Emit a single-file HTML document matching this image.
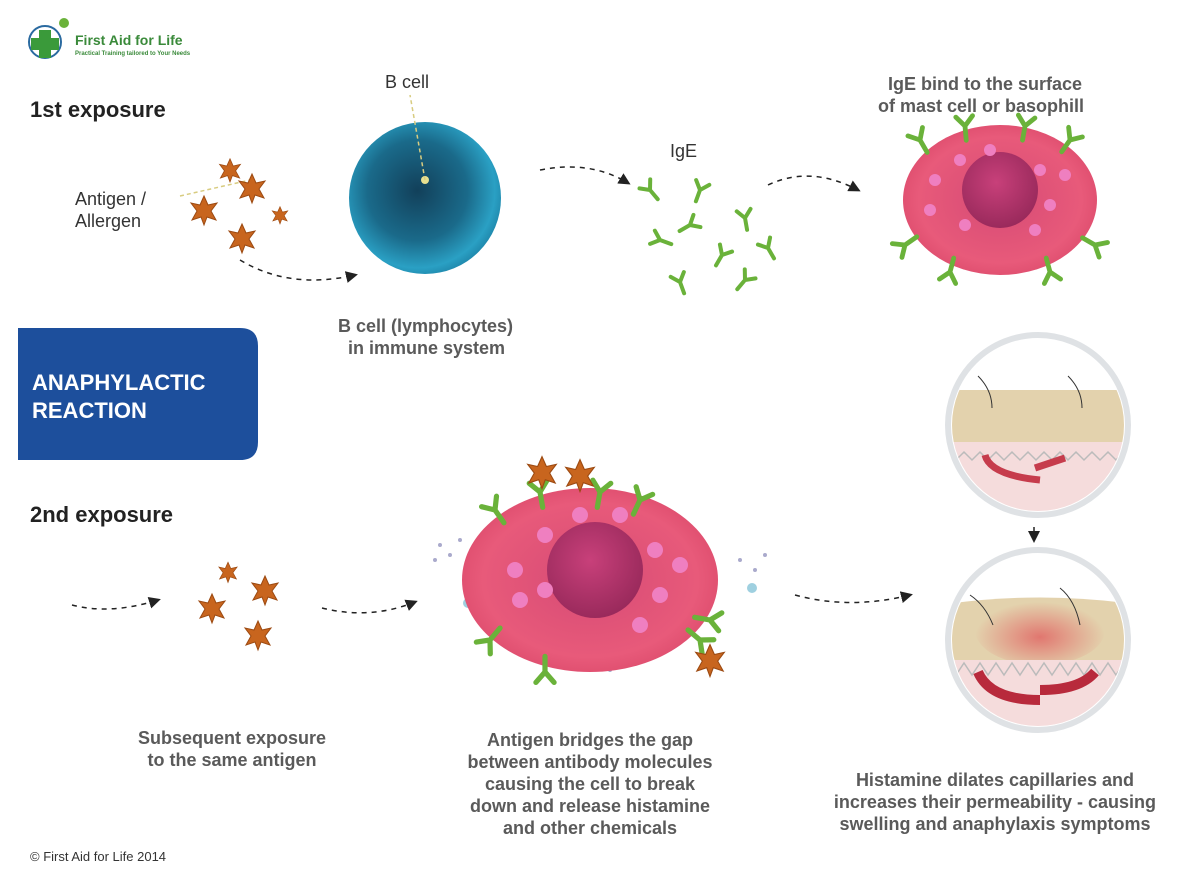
<!DOCTYPE html>
<html><head><meta charset="utf-8"><style>
body{margin:0;background:#fff}
svg{display:block}
text{font-family:"Liberation Sans",Arial,sans-serif}
.b{font-weight:bold;fill:#5a5a5a;font-size:18px}
</style></head><body>
<svg width="1200" height="871" viewBox="0 0 1200 871" xmlns="http://www.w3.org/2000/svg">
<defs>
<radialGradient id="bc" cx="0.45" cy="0.45" r="0.6">
<stop offset="0" stop-color="#12405a"/><stop offset="0.55" stop-color="#1a6a8a"/><stop offset="0.85" stop-color="#2aa0c4"/><stop offset="1" stop-color="#1b7fa3"/></radialGradient>
<radialGradient id="mc" cx="0.5" cy="0.5" r="0.6">
<stop offset="0" stop-color="#d64a75"/><stop offset="0.7" stop-color="#e85a7a"/><stop offset="1" stop-color="#d84566"/></radialGradient>
<radialGradient id="nuc" cx="0.45" cy="0.4" r="0.6">
<stop offset="0" stop-color="#c8407a"/><stop offset="1" stop-color="#9a2a5c"/></radialGradient>
<radialGradient id="sw" cx="0.5" cy="0.6" r="0.5">
<stop offset="0" stop-color="#e06060" stop-opacity="0.8"/><stop offset="1" stop-color="#e06060" stop-opacity="0"/></radialGradient>
<g id="y"><path d="M0 12 V0 M0 0 L-7 -8 M0 0 L7 -8" stroke="#6ab23a" stroke-width="4" fill="none" stroke-linecap="round"/></g>
<polygon id="s" points="0,-14 4,-5 13,-7 7,1 12,10 3,7 0,15 -3,7 -12,10 -7,1 -13,-7 -4,-5" fill="#c8651e" stroke="#9c4a12" stroke-width="1"/>
<clipPath id="c1"><circle cx="1038" cy="425" r="86"/></clipPath>
<clipPath id="c2"><circle cx="1038" cy="640" r="86"/></clipPath>
<marker id="ah" markerWidth="8" markerHeight="8" refX="6" refY="4" orient="auto"><path d="M0 0 L8 4 L0 8z" fill="#222"/></marker>
</defs>

<!-- logo -->
<circle cx="45" cy="42" r="16" fill="none" stroke="#2a6aa0" stroke-width="2"/>
<path d="M39 30h12v8h8v12h-8v8h-12v-8h-8v-12h8z" fill="#3a9a3a"/>
<circle cx="64" cy="23" r="5" fill="#6ab23a"/>
<text x="75" y="45" font-size="14" font-weight="bold" fill="#3a8a3a">First Aid for Life</text>
<text x="75" y="55" font-size="6" font-weight="bold" fill="#3a8a3a">Practical Training tailored to Your Needs</text>

<text x="30" y="117" font-size="22" font-weight="bold" fill="#222">1st exposure</text>
<text x="75" y="205" font-size="18" fill="#333">Antigen /</text>
<text x="75" y="227" font-size="18" fill="#333">Allergen</text>
<path d="M180 196 L250 180" stroke="#d8cc80" stroke-width="1.5" stroke-dasharray="4 3"/>
<use href="#s" transform="translate(230,170) scale(0.8)"/>
<use href="#s" transform="translate(252,188)"/>
<use href="#s" transform="translate(204,210)"/>
<use href="#s" transform="translate(280,215) scale(0.6)"/>
<use href="#s" transform="translate(242,238)"/>
<path d="M240 260 Q290 290 355 275" fill="none" stroke="#222" stroke-width="1.5" stroke-dasharray="5 5" marker-end="url(#ah)"/>

<circle cx="425" cy="198" r="76" fill="url(#bc)"/>
<circle cx="425" cy="180" r="4" fill="#e8e090"/>
<path d="M425 180 L410 95" stroke="#d8cc80" stroke-width="1.5" stroke-dasharray="4 3"/>
<text x="385" y="88" font-size="18" fill="#333">B cell</text>
<text x="338" y="332" class="b">B cell (lymphocytes)</text>
<text x="348" y="354" class="b">in immune system</text>
<path d="M540 170 Q590 160 628 183" fill="none" stroke="#222" stroke-width="1.5" stroke-dasharray="5 5" marker-end="url(#ah)"/>

<text x="670" y="157" font-size="18" fill="#333">IgE</text>
<use href="#y" transform="translate(650,190) rotate(-40)"/>
<use href="#y" transform="translate(700,190) rotate(20)"/>
<use href="#y" transform="translate(745,218) rotate(-10)"/>
<use href="#y" transform="translate(690,225) rotate(60)"/>
<use href="#y" transform="translate(660,240) rotate(-70)"/>
<use href="#y" transform="translate(722,255) rotate(30)"/>
<use href="#y" transform="translate(768,248) rotate(-30)"/>
<use href="#y" transform="translate(680,282) rotate(-20)"/>
<use href="#y" transform="translate(745,280) rotate(40)"/>
<path d="M768 185 Q810 165 858 190" fill="none" stroke="#222" stroke-width="1.5" stroke-dasharray="5 5" marker-end="url(#ah)"/>

<text x="888" y="90" font-size="18" font-weight="bold" fill="#5a5a5a">IgE bind to the surface</text>
<text x="878" y="112" font-size="18" font-weight="bold" fill="#5a5a5a">of mast cell or basophill</text>
<ellipse cx="1000" cy="200" rx="97" ry="75" fill="url(#mc)"/>
<circle cx="1000" cy="190" r="38" fill="url(#nuc)"/>
<g fill="#ef7fc0"><circle cx="935" cy="180" r="6"/><circle cx="930" cy="210" r="6"/><circle cx="960" cy="160" r="6"/><circle cx="965" cy="225" r="6"/><circle cx="1040" cy="170" r="6"/><circle cx="1050" cy="205" r="6"/><circle cx="1065" cy="175" r="6"/><circle cx="1035" cy="230" r="6"/><circle cx="990" cy="150" r="6"/></g>
<use href="#y" transform="translate(920,140) rotate(-30) scale(1.2)"/>
<use href="#y" transform="translate(965,126) rotate(-5) scale(1.2)"/>
<use href="#y" transform="translate(1025,126) rotate(10) scale(1.2)"/>
<use href="#y" transform="translate(1070,140) rotate(35) scale(1.2)"/>
<use href="#y" transform="translate(1095,245) rotate(120) scale(1.2)"/>
<use href="#y" transform="translate(1050,272) rotate(165) scale(1.2)"/>
<use href="#y" transform="translate(950,272) rotate(195) scale(1.2)"/>
<use href="#y" transform="translate(905,245) rotate(235) scale(1.2)"/>

<path d="M18 328 H240 Q258 328 258 346 V442 Q258 460 240 460 H18z" fill="#1d4f9c"/>
<text x="32" y="390" font-size="22" font-weight="bold" fill="#fff">ANAPHYLACTIC</text>
<text x="32" y="418" font-size="22" font-weight="bold" fill="#fff">REACTION</text>

<text x="30" y="522" font-size="22" font-weight="bold" fill="#222">2nd exposure</text>
<path d="M72 605 Q110 615 158 600" fill="none" stroke="#222" stroke-width="1.5" stroke-dasharray="5 5" marker-end="url(#ah)"/>
<use href="#s" transform="translate(228,572) scale(0.7)"/>
<use href="#s" transform="translate(265,590)"/>
<use href="#s" transform="translate(212,608)"/>
<use href="#s" transform="translate(258,635)"/>
<path d="M322 608 Q370 620 415 602" fill="none" stroke="#222" stroke-width="1.5" stroke-dasharray="5 5" marker-end="url(#ah)"/>

<g fill="#aaaacc"><circle cx="440" cy="545" r="2"/><circle cx="450" cy="555" r="2"/><circle cx="460" cy="540" r="2"/><circle cx="435" cy="560" r="2"/><circle cx="580" cy="650" r="2"/><circle cx="600" cy="660" r="2"/><circle cx="620" cy="655" r="2"/><circle cx="610" cy="670" r="2"/><circle cx="740" cy="560" r="2"/><circle cx="755" cy="570" r="2"/><circle cx="765" cy="555" r="2"/><circle cx="560" cy="640" r="2"/></g>
<circle cx="468" cy="603" r="5" fill="#9fd0e0"/><circle cx="752" cy="588" r="5" fill="#9fd0e0"/><circle cx="540" cy="625" r="4" fill="#9fd0e0"/>
<ellipse cx="590" cy="580" rx="128" ry="92" fill="url(#mc)"/>
<circle cx="595" cy="570" r="48" fill="url(#nuc)"/>
<g fill="#ef7fc0"><circle cx="515" cy="570" r="8"/><circle cx="520" cy="600" r="8"/><circle cx="545" cy="535" r="8"/><circle cx="545" cy="590" r="8"/><circle cx="655" cy="550" r="8"/><circle cx="660" cy="595" r="8"/><circle cx="680" cy="565" r="8"/><circle cx="640" cy="625" r="8"/><circle cx="580" cy="515" r="8"/><circle cx="620" cy="515" r="8"/></g>
<use href="#y" transform="translate(495,510) rotate(-35) scale(1.3)"/>
<use href="#y" transform="translate(540,492) rotate(-10) scale(1.3)"/>
<use href="#y" transform="translate(600,492) rotate(10) scale(1.3)"/>
<use href="#y" transform="translate(640,500) rotate(25) scale(1.3)"/>
<use href="#y" transform="translate(700,640) rotate(130) scale(1.3)"/>
<use href="#y" transform="translate(710,620) rotate(100) scale(1.3)"/>
<use href="#y" transform="translate(545,672) rotate(180) scale(1.3)"/>
<use href="#y" transform="translate(490,640) rotate(220) scale(1.3)"/>
<use href="#s" transform="translate(542,472) scale(1.1)"/>
<use href="#s" transform="translate(580,475) scale(1.1)"/>
<use href="#s" transform="translate(710,660) scale(1.1)"/>
<path d="M795 595 Q850 610 910 595" fill="none" stroke="#222" stroke-width="1.5" stroke-dasharray="5 5" marker-end="url(#ah)"/>

<!-- circles -->
<circle cx="1038" cy="425" r="90" fill="#fff" stroke="#dfe2e5" stroke-width="6"/>
<g clip-path="url(#c1)">
<rect x="940" y="390" width="200" height="52" fill="#e3d2ad"/>
<rect x="940" y="442" width="200" height="80" fill="#f5dcdc"/>
<path d="M940 460 l8 -8 l8 8 l8 -8 l8 8 l8 -8 l8 8 l8 -8 l8 8 l8 -8 l8 8 l8 -8 l8 8 l8 -8 l8 8 l8 -8 l8 8 l8 -8 l8 8 l8 -8 l8 8 l8 -8 l8 8 l8 -8 l8 8" fill="none" stroke="#bbb" stroke-width="1.5"/>
<path d="M985 455 Q990 475 1040 480" stroke="#c63c4c" stroke-width="7" fill="none"/>
<path d="M1035 468 L1065 458" stroke="#c63c4c" stroke-width="7" fill="none"/>
</g>
<path d="M978 376 Q992 390 992 408" stroke="#333" fill="none"/>
<path d="M1068 376 Q1082 390 1082 408" stroke="#333" fill="none"/>
<path d="M1034 527 V540" stroke="#222" stroke-width="1.5" marker-end="url(#ah)"/>
<circle cx="1038" cy="640" r="90" fill="#fff" stroke="#dfe2e5" stroke-width="6"/>
<g clip-path="url(#c2)">
<path d="M940 605 Q1040 590 1140 605 V660 H940z" fill="#e3d2ad"/>
<ellipse cx="1040" cy="630" rx="65" ry="35" fill="url(#sw)"/>
<rect x="940" y="660" width="200" height="70" fill="#f5dcdc"/>
<path d="M940 675 l8 -12 l8 12 l8 -12 l8 12 l8 -12 l8 12 l8 -12 l8 12 l8 -12 l8 12 l8 -12 l8 12 l8 -12 l8 12 l8 -12 l8 12 l8 -12 l8 12 l8 -12 l8 12 l8 -12 l8 12 l8 -12 l8 12" fill="none" stroke="#bbb" stroke-width="1.5"/>
<path d="M978 672 Q990 700 1040 700" stroke="#b82a3c" stroke-width="10" fill="none"/>
<path d="M1040 690 Q1080 690 1095 672" stroke="#b82a3c" stroke-width="10" fill="none"/>
</g>
<path d="M970 595 Q985 605 993 625" stroke="#333" fill="none"/>
<path d="M1060 588 Q1075 600 1080 625" stroke="#333" fill="none"/>

<text x="232" y="744" class="b" text-anchor="middle">Subsequent exposure</text>
<text x="232" y="766" class="b" text-anchor="middle">to the same antigen</text>
<g class="b" text-anchor="middle">
<text x="590" y="746" class="b" text-anchor="middle">Antigen bridges the gap</text>
<text x="590" y="768" class="b" text-anchor="middle">between antibody molecules</text>
<text x="590" y="790" class="b" text-anchor="middle">causing the cell to break</text>
<text x="590" y="812" class="b" text-anchor="middle">down  and release histamine</text>
<text x="590" y="834" class="b" text-anchor="middle">and other chemicals</text>
</g>
<text x="995" y="786" class="b" text-anchor="middle">Histamine dilates capillaries and</text>
<text x="995" y="808" class="b" text-anchor="middle">increases their permeability - causing</text>
<text x="995" y="830" class="b" text-anchor="middle">swelling and anaphylaxis symptoms</text>
<text x="30" y="861" font-size="13" fill="#333">© First Aid for Life 2014</text>
</svg>
</body></html>
